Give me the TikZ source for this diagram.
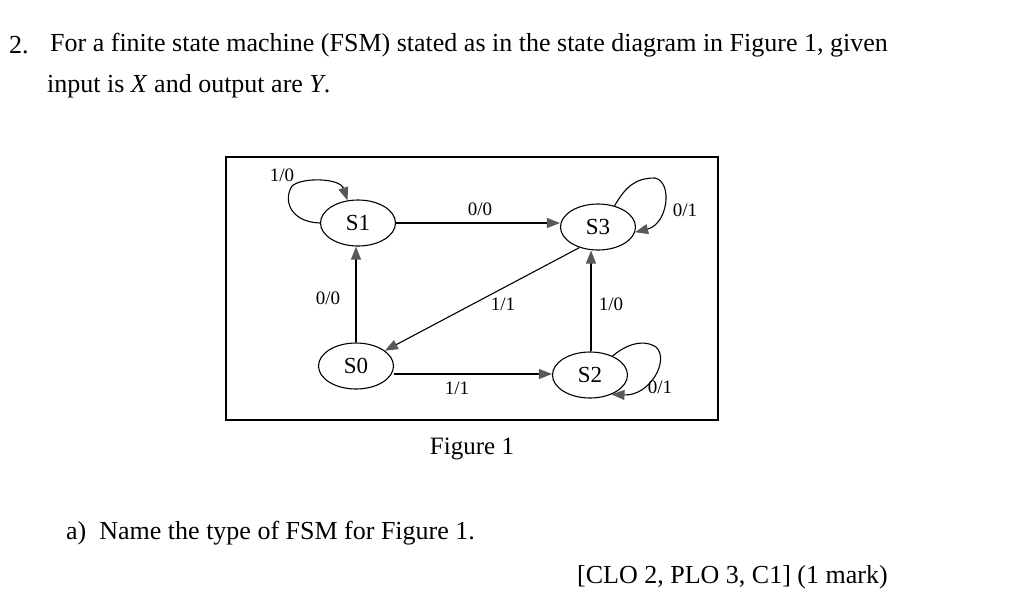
\documentclass[tikz,border=0pt]{standalone}
\usepackage{fontspec}
\setmainfont{Liberation Serif}
\usetikzlibrary{shapes.geometric,arrows.meta}

\begin{document}
\begin{tikzpicture}[x=1pt,y=-1pt,
    state/.style={ellipse,draw,line width=1.1pt,minimum width=75pt,minimum height=46pt,inner sep=0pt,font=\fontsize{23}{25}\selectfont},
    trans/.style={line width=1.1pt,-{Triangle[length=13pt,width=10pt,fill=black!65,color=black!65]}},
    lbl/.style={font=\fontsize{19}{21}\selectfont,inner sep=0pt},
    body/.style={font=\fontsize{26}{30}\selectfont,inner sep=0pt,anchor=west}]
            \useasboundingbox (0,0) rectangle (1011,595);
            % question text
            \node[body] (num) at (9,45) {2.};
            \node[body] (line1) at (50,45) {For a finite state machine (FSM) stated as in the state diagram in Figure 1, given};
            \node[body] (line2) at (47,86) {input is \textit{X} and output are \textit{Y}.};
            % figure frame
            \draw[line width=1.5pt] (226,157) rectangle (718,420);
            \node[state] (s1) at (358,223) {S1};
            \node[state] (s3) at (598,227) {S3};
            \node[state] (s0) at (356,366) {S0};
            \node[state] (s2) at (590,375) {S2};
            % transitions
            \draw[trans] (s1.east) -- (s3.west |- s1.east);
            \draw[trans] (s0.north) -- (s0.north |- s1.south);
            \draw[trans] (s3.228) -- (s0.28);
            \draw[trans] (s0.east |- 0,374) -- (s2.west |- 0,374);
            \draw[trans] (s2.north -| 591,0) -- (s3.south -| 591,0);
            \draw[trans] (s1.180) .. controls (290,222) and (283,200) .. (292,186)
                .. controls (302,177) and (340,178) .. (s1.115);
            \draw[trans] (s3.52) .. controls (626,186) and (636,178) .. (655,178)
                .. controls (673,182) and (668,224) .. (s3.-8);
            \draw[trans] (s2.40) .. controls (624,346) and (642,338) .. (656,347)
                .. controls (670,360) and (650,396) .. (s2.-42);
            % labels
            \node[lbl] (l10a) at (282,175) {1/0};
            \node[lbl] (l00a) at (480,209) {0/0};
            \node[lbl] (l01a) at (685,210) {0/1};
            \node[lbl] (l00b) at (328,298) {0/0};
            \node[lbl] (l11a) at (503,304) {1/1};
            \node[lbl] (l10b) at (611,304) {1/0};
            \node[lbl] (l11b) at (457,388) {1/1};
            \node[lbl] (l01b) at (660,387) {0/1};
            \node[font=\fontsize{25}{28}\selectfont,inner sep=0pt] (cap) at (472,449) {Figure 1};
            % part a
            \node[body] (parta) at (66,533) {a)\enspace Name the type of FSM for Figure 1.};
            \node[body] (mark) at (577,577) {[CLO 2, PLO 3, C1] (1 mark)};
        \end{tikzpicture}
\end{document}
